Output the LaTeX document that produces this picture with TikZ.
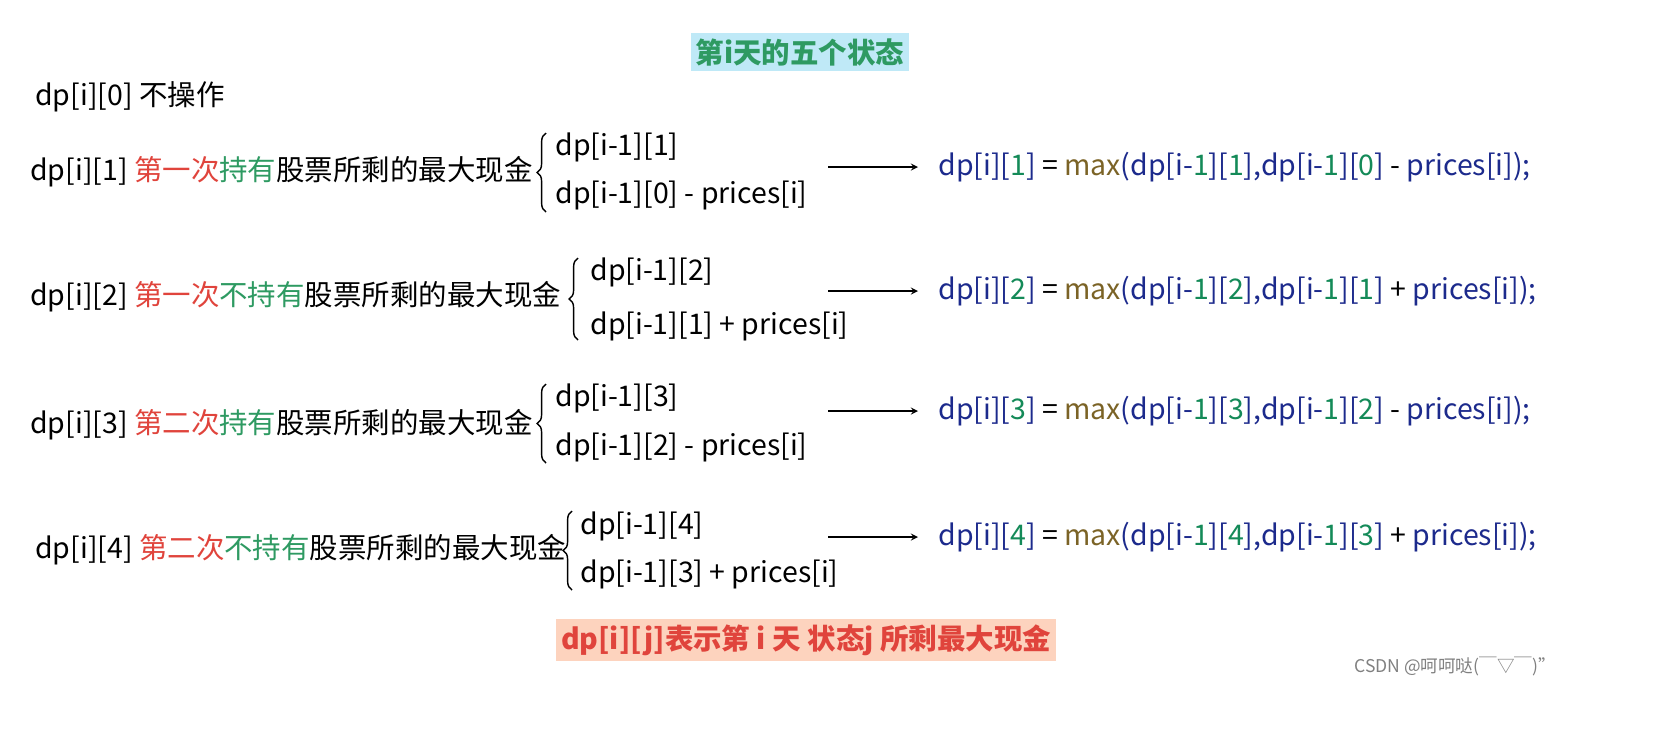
\documentclass[tikz,border=0pt]{standalone}
\usepackage{fontspec}
\setmainfont{Noto Sans CJK SC}
\usetikzlibrary{decorations.pathreplacing}
\definecolor{tred}{HTML}{E0443C}
\definecolor{tgreen}{HTML}{2E9A62}
\definecolor{fblue}{HTML}{1C2A8C}
\definecolor{fgreen}{HTML}{148A58}
\definecolor{fbrown}{HTML}{7B6326}
\definecolor{bgblue}{HTML}{BFE9F7}
\definecolor{bgred}{HTML}{FDD3BE}
\newcommand{\Bl}[1]{\textcolor{fblue}{#1}}
\newcommand{\Gr}[1]{\textcolor{fgreen}{#1}}
\newcommand{\Mx}[1]{\textcolor{fbrown}{#1}}
\newcommand{\R}[1]{\textcolor{tred}{#1}}
\newcommand{\Gn}[1]{\textcolor{tgreen}{#1}}
\tikzset{
 txt/.style={inner sep=0pt,anchor=west,font=\fontsize{16.2}{18}\selectfont},
 arr/.style={-stealth,line width=0.8pt},
 br/.style={decorate,decoration={brace,mirror,amplitude=5pt},line width=0.8pt}
}
\begin{document}
\begin{tikzpicture}[x=0.02cm,y=-0.02cm]
\useasboundingbox (0,0) rectangle (1661,728);
\node[txt,anchor=center,fill=bgblue,inner sep=3pt,text=tgreen,font=\fontsize{16.2}{18}\selectfont\bfseries] (title) at (800,52) {第i天的五个状态};
\node[txt] (s0) at (35,97) {dp[i][0] 不操作};
% row 1
\node[txt] (s1) at (30,172) {dp[i][1] \R{第一次}\Gn{持有}股票所剩的最大现金};
\node[txt] (a1) at (555,147) {dp[i-1][1]};
\node[txt] (b1) at (555,195) {dp[i-1][0] - prices[i]};
\draw[br] (546,133) -- (546,212);
\node[txt] (f1) at (938,167) {\Bl{dp[i][}\Gr{1}\Bl{]} = \Mx{max}\Bl{(dp[i-}\Gr{1}\Bl{][}\Gr{1}\Bl{],dp[i-}\Gr{1}\Bl{][}\Gr{0}\Bl{]} - \Bl{prices[i]);}};
\coordinate (p1) at (828,167);
\draw[arr] (p1) -- (f1.west -| 918,0);
% row 2
\node[txt] (s2) at (30,297) {dp[i][2] \R{第一次}\Gn{不持有}股票所剩的最大现金};
\node[txt] (a2) at (590,272) {dp[i-1][2]};
\node[txt] (b2) at (590,326) {dp[i-1][1] + prices[i]};
\draw[br] (578,258) -- (578,340);
\node[txt] (f2) at (938,291) {\Bl{dp[i][}\Gr{2}\Bl{]} = \Mx{max}\Bl{(dp[i-}\Gr{1}\Bl{][}\Gr{2}\Bl{],dp[i-}\Gr{1}\Bl{][}\Gr{1}\Bl{]} + \Bl{prices[i]);}};
\coordinate (p2) at (828,291);
\draw[arr] (p2) -- (f2.west -| 918,0);
% row 3
\node[txt] (s3) at (30,425) {dp[i][3] \R{第二次}\Gn{持有}股票所剩的最大现金};
\node[txt] (a3) at (555,398) {dp[i-1][3]};
\node[txt] (b3) at (555,447) {dp[i-1][2] - prices[i]};
\draw[br] (546,384) -- (546,463);
\node[txt] (f3) at (938,411) {\Bl{dp[i][}\Gr{3}\Bl{]} = \Mx{max}\Bl{(dp[i-}\Gr{1}\Bl{][}\Gr{3}\Bl{],dp[i-}\Gr{1}\Bl{][}\Gr{2}\Bl{]} - \Bl{prices[i]);}};
\coordinate (p3) at (828,411);
\draw[arr] (p3) -- (f3.west -| 918,0);
% row 4
\node[txt] (s4) at (35,550) {dp[i][4] \R{第二次}\Gn{不持有}股票所剩的最大现金};
\node[txt] (a4) at (580,526) {dp[i-1][4]};
\node[txt] (b4) at (580,574) {dp[i-1][3] + prices[i]};
\draw[br] (572,511) -- (572,590);
\node[txt] (f4) at (938,537) {\Bl{dp[i][}\Gr{4}\Bl{]} = \Mx{max}\Bl{(dp[i-}\Gr{1}\Bl{][}\Gr{4}\Bl{],dp[i-}\Gr{1}\Bl{][}\Gr{3}\Bl{]} + \Bl{prices[i]);}};
\coordinate (p4) at (828,537);
\draw[arr] (p4) -- (f4.west -| 918,0);
% bottom
\node[txt,anchor=center,fill=bgred,inner sep=3pt,text=tred,font=\fontsize{16.2}{18}\selectfont\bfseries] (note) at (806,640) {dp[i][j]表示第 i 天 状态j 所剩最大现金};
\node[inner sep=0pt,text=gray,font=\fontsize{10}{11}\selectfont] (wm) at (1455,666) {CSDN @呵呵哒(￣▽￣)"};
\end{tikzpicture}
\end{document}
